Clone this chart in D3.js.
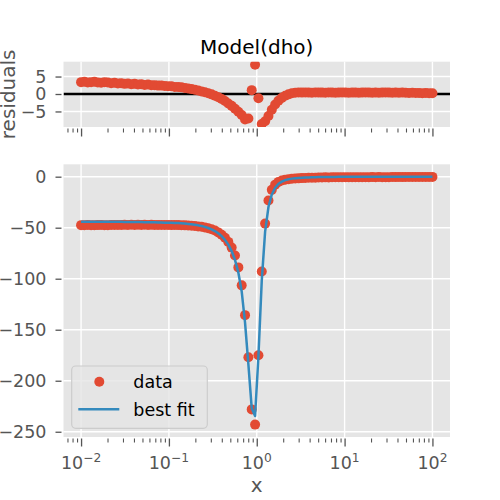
<!DOCTYPE html>
<html><head><meta charset="utf-8">
<script src="https://cdn.jsdelivr.net/npm/d3@7"></script>
<style>
body{margin:0;background:#fff}
svg{display:block}
text{font-family:"DejaVu Sans",sans-serif}
</style>
</head><body>
<svg id="chart" width="500" height="500"></svg>
<script>
// ---- data ----
const xValues = [
0.01,0.01092,0.01192,0.01301,0.01420,0.01551,0.01693,0.01848,0.02017,0.02202,
0.02404,0.02624,0.02865,0.03128,0.03415,0.03728,0.04069,0.04442,0.04850,0.05294,
0.05780,0.06310,0.06888,0.07520,0.08209,0.08962,0.09783,0.1068,0.1166,0.1273,
0.1389,0.1517,0.1656,0.1808,0.1973,0.2154,0.2352,0.2568,0.2803,0.3060,
0.3340,0.3647,0.3981,0.4346,0.4744,0.5179,0.5654,0.6173,0.6739,0.7356,
0.8031,0.8767,0.9571,1.0448,1.1406,1.2452,1.3593,1.4840,1.6200,1.7685,
1.9307,2.1077,2.3009,2.5119,2.7422,2.9936,3.2680,3.5676,3.8947,4.2518,
4.6416,5.0671,5.5317,6.0388,6.5924,7.1968,7.8566,8.5769,9.3632,10.222,
11.159,12.182,13.299,14.518,15.849,17.302,18.888,20.620,22.510,24.574,
26.827,29.286,31.971,34.902,38.102,41.595,45.409,49.572,54.117,59.078,
64.494,70.407,76.862,83.908,91.601,100];

const dataValues = [
-47.5,-47.6,-47.4,-47.5,-47.6,-47.45,-47.35,-47.55,-47.5,-47.3,
-47.4,-47.25,-47.35,-47.2,-47.3,-47.15,-47.3,-47.15,-47.3,-47.15,
-47.3,-47.2,-47.25,-47.25,-47.35,-47.35,-47.35,-47.45,-47.35,-47.45,
-47.5,-47.7,-47.9,-48.1,-48.35,-48.7,-49.15,-49.7,-50.5,-51.5,
-52.8,-54.6,-56.9,-59.9,-63.9,-69.5,-77.3,-88.9,-106.5,-135.7,
-177.0,-228.1,-243.0,-175.0,-93.0,-46.0,-23.4,-12.9,-7.8,-5.1,
-3.7,-2.9,-2.4,-2.1,-1.85,-1.65,-1.4,-1.28,-1.09,-0.93,
-0.94,-0.82,-0.76,-0.66,-0.72,-0.63,-0.55,-0.575,-0.6,-0.53,
-0.465,-0.5,-0.49,-0.43,-0.47,-0.51,-0.455,-0.4,-0.445,-0.39,
-0.435,-0.48,-0.428,-0.375,-0.422,-0.37,-0.418,-0.366,-0.314,-0.362,
-0.31,-0.309,-0.258,-0.307,-0.256,-0.205];

const fitValues = [
-44.1,-44.1,-44.1,-44.1,-44.1,-44.15,-44.15,-44.15,-44.2,-44.2,
-44.2,-44.25,-44.25,-44.3,-44.3,-44.35,-44.4,-44.45,-44.5,-44.55,
-44.6,-44.7,-44.75,-44.85,-44.95,-45.05,-45.15,-45.25,-45.35,-45.45,
-45.6,-45.95,-46.3,-46.7,-47.15,-47.7,-48.4,-49.2,-50.3,-51.6,
-53.3,-55.5,-58.3,-61.9,-66.6,-72.9,-81.5,-94.0,-112.5,-143.0,
-184.0,-227.0,-234.6,-176.2,-101.6,-53.8,-29.7,-17.4,-10.8,-7.0,
-4.8,-3.4,-2.5,-1.9,-1.5,-1.2,-1.0,-0.83,-0.69,-0.58,
-0.49,-0.42,-0.36,-0.31,-0.27,-0.23,-0.20,-0.175,-0.15,-0.13,
-0.115,-0.10,-0.09,-0.08,-0.07,-0.06,-0.055,-0.05,-0.045,-0.04,
-0.035,-0.03,-0.028,-0.025,-0.022,-0.02,-0.018,-0.016,-0.014,-0.012,
-0.01,-0.009,-0.008,-0.007,-0.006,-0.005];

const mainYTicks = [0, -50, -100, -150, -200, -250];
const residYTicks = [-5, 0, 5];
const xTickValues = [0.01, 0.1, 1, 10, 100];
const xTickExponents = ["\u22122", "\u22121", "0", "1", "2"];
const titleText = "Model(dho)";
const xLabelText = "x";
const residLabelText = "residuals";
const legendLabels = ["data", "best fit"];

// ---- styling / layout ----
const RED = "#E24A33", BLUE = "#348ABD", BG = "#E5E5E5", TICKC = "#555555";
const L = 63.5, R = 450;
const rTop = 61.7, rBot = 127;
const mTop = 164.3, mBot = 437;
const tickFont = 17.5;

const residuals = xValues.map((x, i) => ({x, r: fitValues[i] - dataValues[i]}));
const points = xValues.map((x, i) => ({x, y: dataValues[i], f: fitValues[i]}));

function padExtent(ext, frac) {
  const s = ext[1] - ext[0];
  return [ext[0] - frac * s, ext[1] + frac * s];
}
const lx = padExtent(d3.extent(xValues).map(Math.log10), 0.05);
const x = d3.scaleLog().domain([Math.pow(10, lx[0]), Math.pow(10, lx[1])]).range([L, R]);
const yMainExt = padExtent(d3.extent(dataValues.concat(fitValues)), 0.05);
const yMain = d3.scaleLinear().domain(yMainExt).range([mBot, mTop]);
const yResExt = padExtent(d3.extent(residuals, d => d.r), 0.05);
const yRes = d3.scaleLinear().domain(yResExt).range([rBot, rTop]);

const svg = d3.select("#chart");
const defs = svg.append("defs");
defs.append("clipPath").attr("id", "clipR").append("rect")
  .attr("x", L).attr("y", rTop).attr("width", R - L).attr("height", rBot - rTop);
defs.append("clipPath").attr("id", "clipM").append("rect")
  .attr("x", L).attr("y", mTop).attr("width", R - L).attr("height", mBot - mTop);

const minorTicks = x.ticks().filter(v => {
  const e = Math.log10(v);
  return Math.abs(e - Math.round(e)) > 1e-6;
});

function drawPanel(yScale, yTicks, top, bot, clipId, showXLabels) {
  svg.append("rect").attr("x", L).attr("y", top).attr("width", R - L).attr("height", bot - top).attr("fill", BG);
  const g = svg.append("g");
  g.selectAll(".gx").data(xTickValues).join("line")
    .attr("x1", d => x(d)).attr("x2", d => x(d)).attr("y1", top).attr("y2", bot)
    .attr("stroke", "#fff").attr("stroke-width", 1.4);
  g.selectAll(".gy").data(yTicks).join("line")
    .attr("x1", L).attr("x2", R).attr("y1", d => yScale(d)).attr("y2", d => yScale(d))
    .attr("stroke", "#fff").attr("stroke-width", 1.4);

  // y axis
  const ya = svg.append("g").attr("transform", `translate(${L - 2},0)`)
    .call(d3.axisLeft(yScale).tickValues(yTicks).tickSize(6).tickPadding(9).tickFormat(d3.format("d")));
  ya.select(".domain").remove();
  ya.attr("font-family", null).attr("font-size", null);
  ya.selectAll("line").attr("stroke", TICKC).attr("stroke-width", 1.3);
  ya.selectAll("text").attr("fill", TICKC).style("font-size", tickFont + "px").style("font-family", '"DejaVu Sans"');

  // x axis major + minor
  const xa = svg.append("g").attr("transform", `translate(0,${bot + 1.5})`)
    .call(d3.axisBottom(x).tickValues(xTickValues).tickSize(8).tickFormat(""));
  xa.select(".domain").remove();
  xa.selectAll("line").attr("stroke", TICKC).attr("stroke-width", 1.3);
  const xm = svg.append("g").attr("transform", `translate(0,${bot + 1.5})`)
    .call(d3.axisBottom(x).tickValues(minorTicks).tickSize(4).tickFormat(""));
  xm.select(".domain").remove();
  xm.selectAll("line").attr("stroke", TICKC).attr("stroke-width", 1.1);

  if (showXLabels) {
    const lab = svg.append("g");
    xTickValues.forEach((v, i) => {
      const t = lab.append("text").attr("x", x(v)).attr("y", bot + 31.5)
        .attr("text-anchor", "middle").attr("fill", TICKC).style("font-size", tickFont + "px");
      t.append("tspan").text("10");
      t.append("tspan").attr("dy", -6.8).style("font-size", (tickFont * 0.7) + "px").text(xTickExponents[i]);
    });
  }
  return svg.append("g").attr("clip-path", `url(#${clipId})`);
}

// residual panel
const rp = drawPanel(yRes, residYTicks, rTop, rBot, "clipR", false);
rp.append("line").attr("x1", L).attr("x2", R).attr("y1", yRes(0)).attr("y2", yRes(0))
  .attr("stroke", "#000").attr("stroke-width", 2.5);
rp.selectAll("circle").data(residuals).join("circle")
  .attr("cx", d => x(d.x)).attr("cy", d => yRes(d.r)).attr("r", 5).attr("fill", RED);

// main panel
const mp = drawPanel(yMain, mainYTicks, mTop, mBot, "clipM", true);
mp.selectAll("circle").data(points).join("circle")
  .attr("cx", d => x(d.x)).attr("cy", d => yMain(d.y)).attr("r", 5).attr("fill", RED);
mp.append("path").datum(points)
  .attr("d", d3.line().x(d => x(d.x)).y(d => yMain(d.f)))
  .attr("fill", "none").attr("stroke", BLUE).attr("stroke-width", 2.5).attr("stroke-linejoin", "round");

// legend
const lg = svg.append("g");
lg.append("rect").attr("x", 71.7).attr("y", 366).attr("width", 135.6).attr("height", 62.3).attr("rx", 4)
  .attr("fill", BG).attr("fill-opacity", 0.8).attr("stroke", "#CCCCCC").attr("stroke-width", 1.2);
lg.append("circle").attr("cx", 99.3).attr("cy", 381.7).attr("r", 5).attr("fill", RED);
lg.append("line").attr("x1", 78.3).attr("x2", 119.3).attr("y1", 409.3).attr("y2", 409.3)
  .attr("stroke", BLUE).attr("stroke-width", 2.5);
lg.append("text").attr("x", 133.3).attr("y", 388.2).style("font-size", "17.5px").attr("fill", "#000").text(legendLabels[0]);
lg.append("text").attr("x", 133.3).attr("y", 416).style("font-size", "17.5px").attr("fill", "#000").text(legendLabels[1]);

// titles / labels
svg.append("text").attr("x", (L + R) / 2).attr("y", 53.5).attr("text-anchor", "middle")
  .style("font-size", "20px").attr("fill", "#000").text(titleText);
svg.append("text").attr("x", (L + R) / 2).attr("y", 491.5).attr("text-anchor", "middle")
  .style("font-size", "20px").attr("fill", TICKC).text(xLabelText);
svg.append("text").attr("transform", `translate(14.5,${(rTop + rBot) / 2}) rotate(-90)`)
  .attr("text-anchor", "middle").style("font-size", "20px").attr("fill", TICKC).text(residLabelText);
</script>
</body></html>
